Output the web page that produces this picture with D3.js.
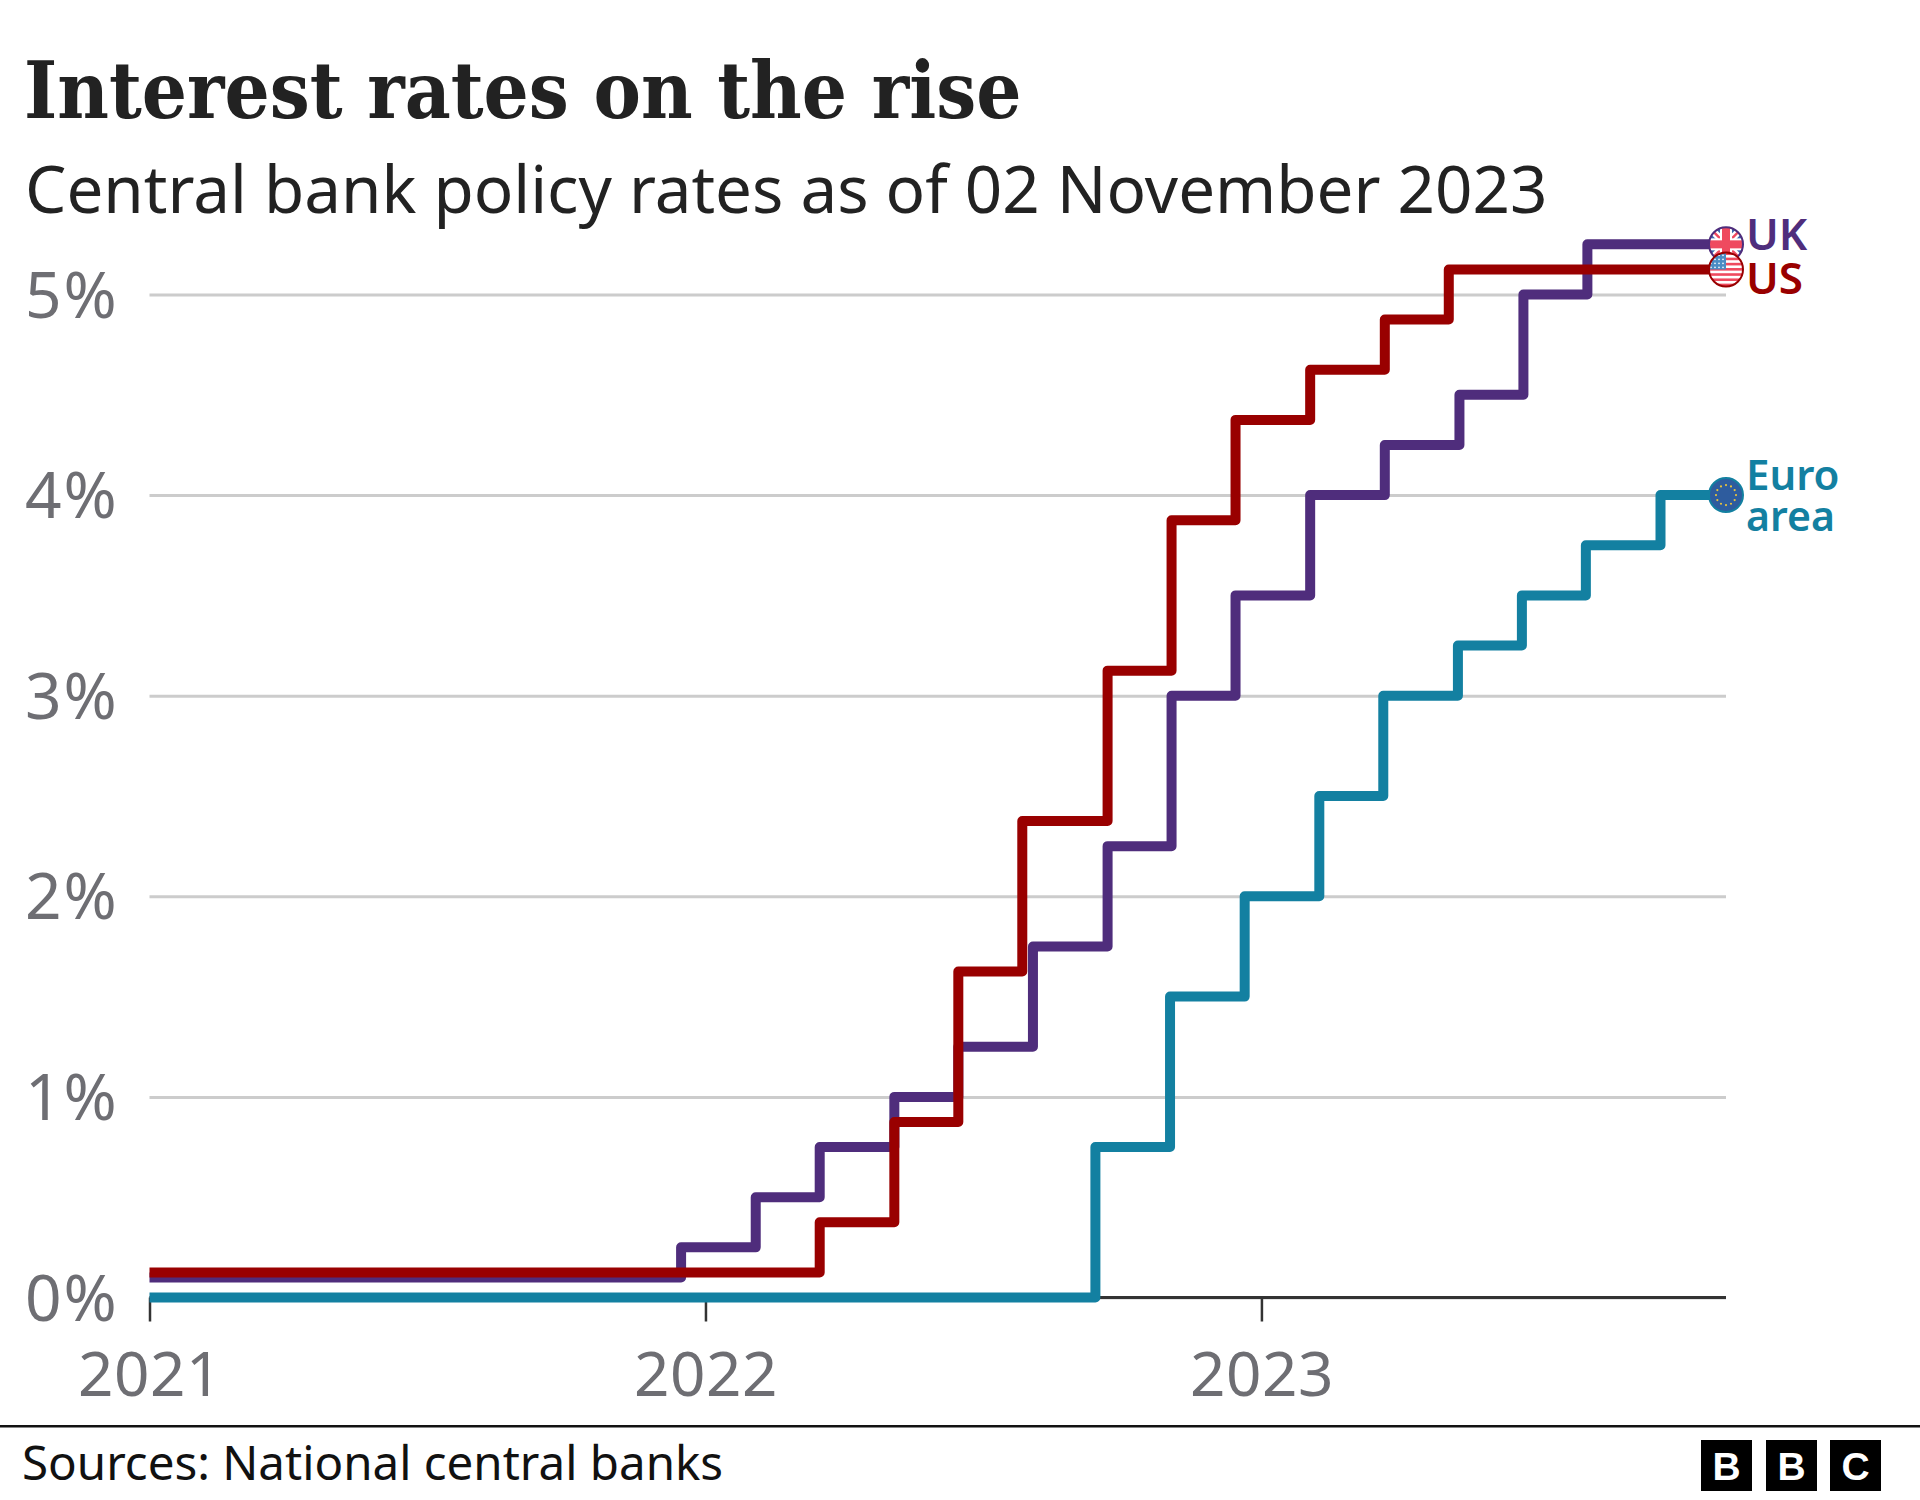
<!DOCTYPE html>
<html>
<head>
<meta charset="utf-8">
<script src="https://cdn.jsdelivr.net/npm/d3@7"></script>
<style>
  body { margin: 0; background: #fff; }
  svg { display: block; }
  text { font-family: "Noto Sans", sans-serif; }
</style>
</head>
<body>
<svg id="chart" width="1920" height="1500"></svg>
<script>
// Policy rates, one entry per change, last entry is the "as of" date
const ukDates = ['2021-01-01', '2021-12-16', '2022-02-03', '2022-03-17', '2022-05-05', '2022-06-16', '2022-08-04', '2022-09-22', '2022-11-03', '2022-12-15', '2023-02-02', '2023-03-23', '2023-05-11', '2023-06-22', '2023-08-03', '2023-11-02'];
const ukRates = [0.1, 0.25, 0.5, 0.75, 1, 1.25, 1.75, 2.25, 3, 3.5, 4, 4.25, 4.5, 5, 5.25, 5.25];

const usDates = ['2021-01-01', '2022-03-17', '2022-05-05', '2022-06-16', '2022-07-28', '2022-09-22', '2022-11-03', '2022-12-15', '2023-02-02', '2023-03-23', '2023-05-04', '2023-11-02'];
const usRates = [0.125, 0.375, 0.875, 1.625, 2.375, 3.125, 3.875, 4.375, 4.625, 4.875, 5.125, 5.125];

const euroDates = ['2021-01-01', '2022-09-14', '2022-11-02', '2022-12-21', '2023-02-08', '2023-03-22', '2023-05-10', '2023-06-21', '2023-08-02', '2023-09-20', '2023-11-02'];
const euroRates = [0, 0.75, 1.5, 2, 2.5, 3, 3.25, 3.5, 3.75, 4, 4];

const yTicks = [0, 1, 2, 3, 4, 5];
const xTicks = ['2021-01-01', '2022-01-01', '2023-01-01'];

const purple = '#4f2d7c';
const red = '#990000';
const teal = '#1380a1';
const greyText = '#6e6e73';

const svg = d3.select('#chart');

const x = d3.scaleUtc()
    .domain([new Date('2021-01-01'), new Date('2023-11-02')])
    .range([149.5, 1726]);
const y = d3.scaleLinear()
    .domain([0, 5])
    .range([1297.5, 294.5]);

// Titles
svg.append('text')
    .attr('x', 24).attr('y', 118)
    .attr('fill', '#222')
    .style('font-family', '"DejaVu Serif Condensed", "DejaVu Serif", serif')
    .style('font-stretch', 'condensed')
    .style('font-weight', 700)
    .style('font-size', '79px')
    .text('Interest rates on the rise');

svg.append('text')
    .attr('x', 25).attr('y', 213)
    .attr('fill', '#222')
    .style('font-size', '65.5px')
    .text('Central bank policy rates as of 02 November 2023');

// Y axis with gridlines
const yAxis = svg.append('g')
    .attr('transform', `translate(${x.range()[0]},0)`)
    .call(d3.axisLeft(y)
        .tickValues(yTicks)
        .tickFormat(d => d + '%')
        .tickSize(-(x.range()[1] - x.range()[0])));
yAxis.select('.domain').remove();
yAxis.selectAll('line').attr('stroke', '#ccc').attr('stroke-width', 3);
yAxis.selectAll('text')
    .attr('x', 25 - x.range()[0])
    .attr('dy', 22.5)
    .attr('text-anchor', 'start')
    .attr('fill', greyText)
    .style('font-size', '64px')
    .style('letter-spacing', '2px')
    .style('font-weight', 400);

// X axis
const xAxis = svg.append('g')
    .attr('transform', `translate(0,${y(0)})`)
    .call(d3.axisBottom(x)
        .tickValues(xTicks.map(d => new Date(d)))
        .tickFormat(d3.utcFormat('%Y'))
        .tickSize(24)
        .tickPadding(0));
xAxis.select('.domain').remove();
xAxis.append('line')
    .attr('x1', x.range()[0]).attr('x2', x.range()[1])
    .attr('stroke', '#333').attr('stroke-width', 3);
xAxis.selectAll('.tick line').attr('stroke', '#333').attr('stroke-width', 2.5);
xAxis.selectAll('.tick text')
    .attr('y', 98)
    .attr('dy', 0)
    .attr('fill', greyText)
    .style('font-size', '62px')
    .style('letter-spacing', '0.5px')
    .style('font-weight', 400);

// Step lines
const line = d3.line()
    .x(d => x(d.date))
    .y(d => y(d.rate))
    .curve(d3.curveStepAfter);

function toPoints(dates, rates) {
    return dates.map((d, i) => ({ date: new Date(d), rate: rates[i] }));
}

const ukPoints = toPoints(ukDates, ukRates);
const usPoints = toPoints(usDates, usRates);
const euroPoints = toPoints(euroDates, euroRates);

[[ukPoints, purple], [usPoints, red], [euroPoints, teal]].forEach(([points, colour]) => {
    svg.append('path')
        .datum(points)
        .attr('d', line)
        .attr('fill', 'none')
        .attr('stroke', colour)
        .attr('stroke-width', 10)
        .attr('stroke-linejoin', 'round');
});

// Flags at the end of each line
const defs = svg.append('defs');
const flagR = 17;

function flagGroup(id, points, colour, background) {
    const last = points[points.length - 1];
    const cx = x(last.date);
    const cy = y(last.rate);
    defs.append('clipPath').attr('id', id)
        .append('circle').attr('r', flagR);
    const g = svg.append('g').attr('transform', `translate(${cx},${cy})`);
    g.append('circle').attr('r', flagR).attr('fill', background);
    const inner = g.append('g').attr('clip-path', `url(#${id})`);
    g.append('circle').attr('r', flagR)
        .attr('fill', 'none').attr('stroke', colour).attr('stroke-width', 2);
    return inner;
}

// UK
const uk = flagGroup('flag-uk', ukPoints, purple, '#3a67ad');
[[-18, -18, 18, 18], [-18, 18, 18, -18]].forEach(([a, b, c, d]) => {
    uk.append('line').attr('x1', a).attr('y1', b).attr('x2', c).attr('y2', d)
        .attr('stroke', '#fff').attr('stroke-width', 7);
    uk.append('line').attr('x1', a).attr('y1', b).attr('x2', c).attr('y2', d)
        .attr('stroke', '#ef4a5f').attr('stroke-width', 2.5);
});
uk.append('rect').attr('x', -18).attr('y', -6).attr('width', 36).attr('height', 12).attr('fill', '#fff');
uk.append('rect').attr('x', -6).attr('y', -18).attr('width', 12).attr('height', 36).attr('fill', '#fff');
uk.append('rect').attr('x', -18).attr('y', -4).attr('width', 36).attr('height', 8).attr('fill', '#ef4a5f');
uk.append('rect').attr('x', -4).attr('y', -18).attr('width', 8).attr('height', 36).attr('fill', '#ef4a5f');

// US
const us = flagGroup('flag-us', usPoints, red, '#fff');
d3.range(-17, 17, 5.2).forEach(sy => {
    us.append('rect').attr('x', -18).attr('y', sy).attr('width', 36).attr('height', 2.6).attr('fill', '#ef4a5f');
});
us.append('rect').attr('x', -18).attr('y', -18).attr('width', 18).attr('height', 18).attr('fill', '#4a8cc4');
d3.range(-15, -1, 4).forEach(sx => {
    d3.range(-14, -1, 4).forEach(sy => {
        us.append('circle').attr('cx', sx).attr('cy', sy).attr('r', 0.8).attr('fill', '#fff');
    });
});

// Euro area
const eu = flagGroup('flag-eu', euroPoints, teal, '#2e5c9e');
d3.range(12).forEach(i => {
    const a = i * Math.PI / 6;
    eu.append('circle')
        .attr('cx', 10 * Math.cos(a)).attr('cy', 10 * Math.sin(a))
        .attr('r', 1.1).attr('fill', '#e9c33c');
});

// Line labels
function label(textValue, baseline, colour, size) {
    svg.append('text')
        .attr('x', 1746).attr('y', baseline)
        .attr('fill', colour)
        .style('font-size', size + 'px')
        .style('font-weight', 600)
        .text(textValue);
}
label('UK', 250, purple, 44);
label('US', 294, red, 44);
label('Euro', 490, teal, 42);
label('area', 531, teal, 41);

// Footer
svg.append('rect')
    .attr('x', 0).attr('y', 1425).attr('width', 1920).attr('height', 2.5)
    .attr('fill', '#111');

svg.append('text')
    .attr('x', 22).attr('y', 1480)
    .attr('fill', '#111')
    .style('font-size', '47.5px')
    .text('Sources: National central banks');

const logoLetters = ['B', 'B', 'C'];
const logoX = [1701, 1766, 1830];
const logo = svg.append('g').selectAll('g')
    .data(logoLetters)
    .join('g')
    .attr('transform', (d, i) => `translate(${logoX[i]},1440)`);
logo.append('rect').attr('width', 51).attr('height', 51).attr('fill', '#000');
logo.append('text')
    .attr('x', 25.5).attr('y', 40)
    .attr('text-anchor', 'middle')
    .attr('fill', '#fff')
    .style('font-family', '"Liberation Sans", sans-serif')
    .style('font-weight', 700)
    .style('font-size', '39px')
    .text(d => d);
</script>
</body>
</html>
